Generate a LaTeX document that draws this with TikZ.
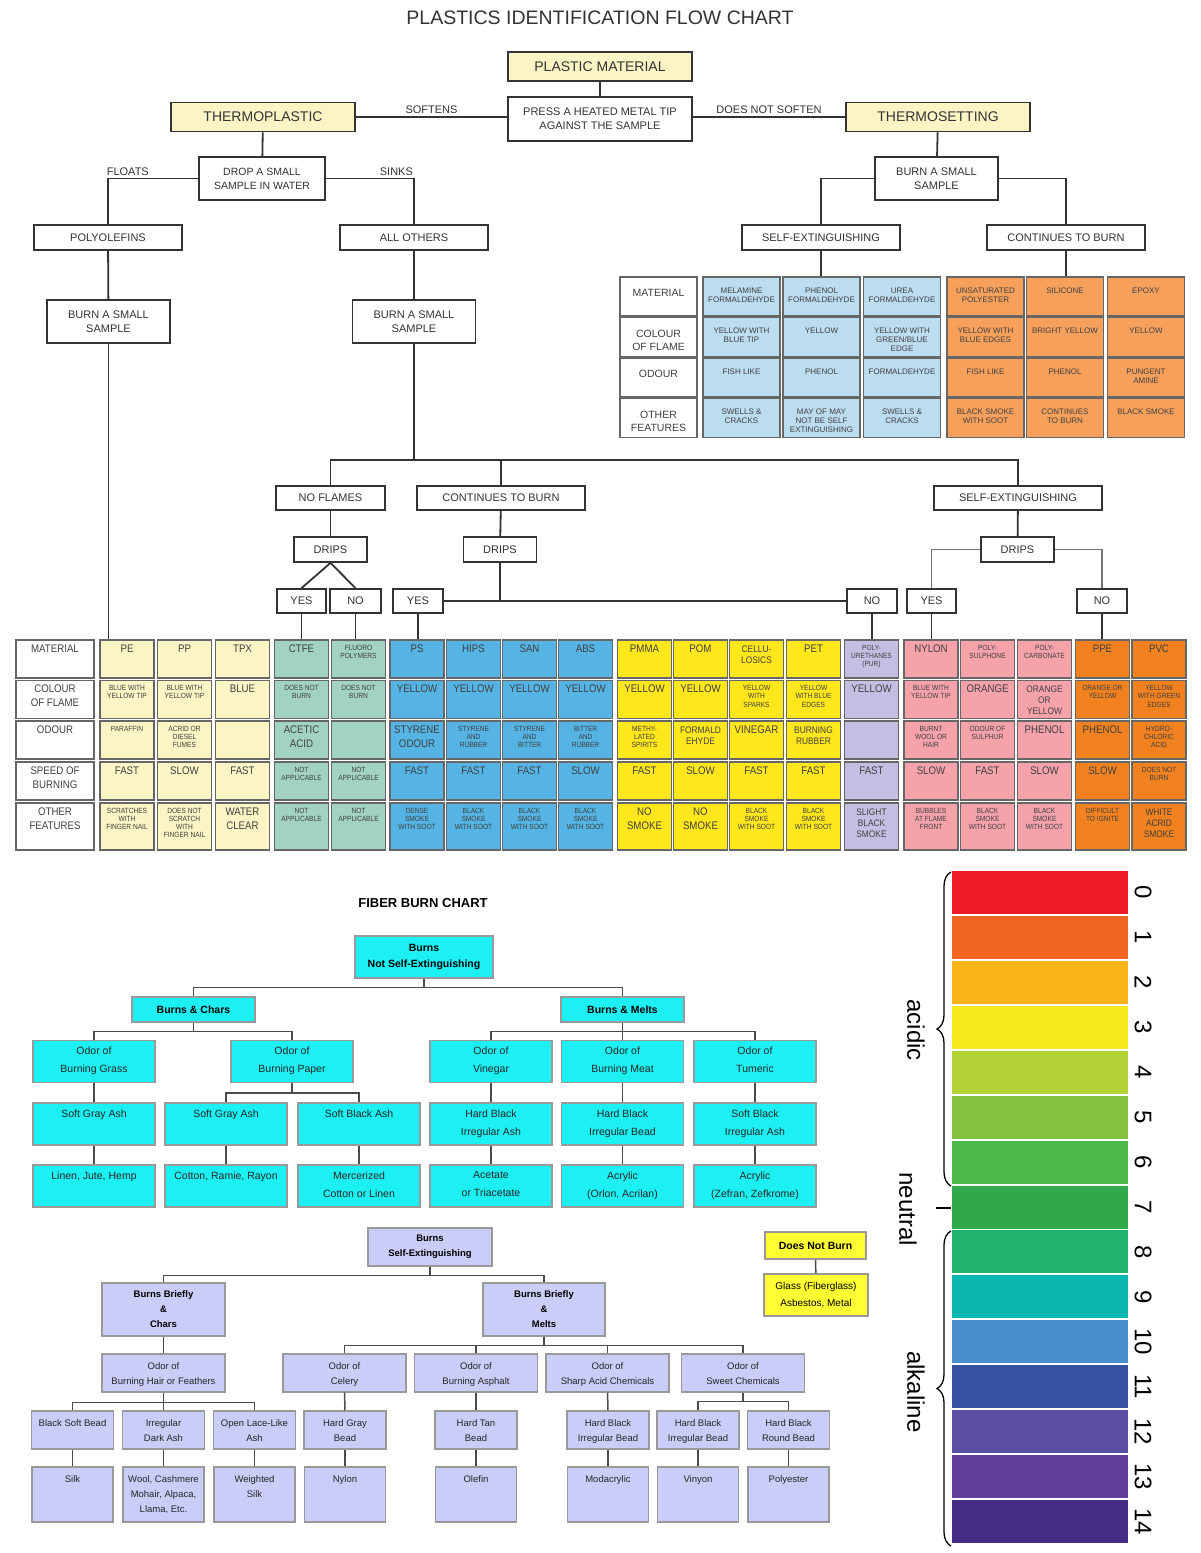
\documentclass[tikz,border=0pt]{standalone}
\usepackage{fontspec}
\setmainfont{Liberation Sans}
\newfontfamily\narrow[FakeStretch=0.88]{Liberation Sans}
\usetikzlibrary{decorations.pathreplacing}

\definecolor{cream}{HTML}{FBF5C6}
\definecolor{pcream}{HTML}{FBF4C4}
\definecolor{pteal}{HTML}{A2D2C1}
\definecolor{pblue}{HTML}{55B4E4}
\definecolor{pyellow}{HTML}{FFE71C}
\definecolor{plilac}{HTML}{C6BEE2}
\definecolor{ppink}{HTML}{F5A2AA}
\definecolor{porange}{HTML}{F2821F}
\definecolor{tblue}{HTML}{BCDCF0}
\definecolor{torange}{HTML}{F6A05C}
\definecolor{fcyan}{HTML}{1CF0F2}
\definecolor{flilac}{HTML}{CACDF7}
\definecolor{fyellow}{HTML}{FFFF33}

\newcommand{\smc}[1]{\narrow\fontsize{7.5}{8.2}\selectfont\begin{tabular}[t]{@{}c@{}}#1\end{tabular}}
\newcommand{\mdc}[1]{\narrow\fontsize{9.5}{11}\selectfont\begin{tabular}[t]{@{}c@{}}#1\end{tabular}}
\newcommand{\lgc}[1]{\fontsize{10.5}{13}\selectfont\begin{tabular}[t]{@{}c@{}}#1\end{tabular}}

\begin{document}
\begin{tikzpicture}[x=1pt, y=-1pt,
  conn/.style={draw=black!80, line width=1.8},
  pbox/.style={draw=black!80, line width=1.8, fill=white, align=center, inner sep=1, text=black!80, font=\fontsize{11}{14}\selectfont},
  hbox/.style={pbox, fill=cream, font=\fontsize{14}{16}\selectfont},
  tag/.style={text=black!80, font=\fontsize{11}{12}\selectfont, inner sep=1},
  pcell/.style={draw=black!60, line width=1.3, minimum width=54, minimum height=38, inner sep=0},
  ptext/.style={anchor=north, yshift=-5, align=center, inner sep=0, text=black!75, font=\narrow\fontsize{11}{14}\selectfont},
  tcell/.style={pcell, minimum width=77, minimum height=39},
  ttext/.style={ptext, yshift=-6, font=\fontsize{8}{9}\selectfont},
  fconn/.style={draw=black!70, line width=1.5},
  cbox/.style={draw=black!40, line width=1.2, fill=fcyan, minimum width=122, minimum height=42, inner sep=0},
  ctext/.style={anchor=north, yshift=-7, align=center, inner sep=0, text=black!85, font=\fontsize{10.5}{18}\selectfont},
  chead/.style={cbox, align=center, font=\bfseries\fontsize{10.5}{16}\selectfont},
  lbox/.style={cbox, fill=flilac, minimum width=123, minimum height=38},
  ltext/.style={ctext, yshift=-2, font=\fontsize{9.5}{15}\selectfont},
  lhead/.style={lbox, align=center, font=\bfseries\fontsize{9.5}{15}\selectfont},
  phlab/.style={rotate=-90, font=\fontsize{24}{26}\selectfont}]
\useasboundingbox (0,0) rectangle (1200,1553);
\fill[white] (0,0) rectangle (1200,1553);

% plastics flow chart
\node[text=black!80, font=\fontsize{19.5}{21}\selectfont] (title) at (600,18) {PLASTICS IDENTIFICATION FLOW CHART};
\node[hbox, minimum width=184, minimum height=29] (pm) at (600,66.5) {PLASTIC MATERIAL};
\node[pbox, minimum width=184, minimum height=44] (press) at (600,119) {PRESS A HEATED METAL TIP\\AGAINST THE SAMPLE};
\node[hbox, minimum width=184, minimum height=29] (tp) at (263,117) {THERMOPLASTIC};
\node[hbox, minimum width=184, minimum height=29] (ts) at (938,117) {THERMOSETTING};
\node[pbox, minimum width=126, minimum height=43, font=\fontsize{10.5}{14}\selectfont] (drop) at (262,178.5) {DROP A SMALL\\SAMPLE IN WATER};
\node[pbox, minimum width=123, minimum height=43] (burn3) at (936.5,178.5) {BURN A SMALL\\SAMPLE};
\node[pbox, minimum width=148, minimum height=25] (poly) at (108,237.5) {POLYOLEFINS};
\node[pbox, minimum width=148, minimum height=25] (others) at (414,237.5) {ALL OTHERS};
\node[pbox, minimum width=158, minimum height=25] (selfx) at (821,237.5) {SELF-EXTINGUISHING};
\node[pbox, minimum width=158, minimum height=25] (cont) at (1066,237.5) {CONTINUES TO BURN};
\node[pbox, minimum width=123, minimum height=43] (burn1) at (108.5,321.5) {BURN A SMALL\\SAMPLE};
\node[pbox, minimum width=123, minimum height=43] (burn2) at (414,321.5) {BURN A SMALL\\SAMPLE};
\node[pbox, minimum width=109, minimum height=24] (nof) at (330.5,498) {NO FLAMES};
\node[pbox, minimum width=168, minimum height=24] (ctb) at (501,498) {CONTINUES TO BURN};
\node[pbox, minimum width=168, minimum height=24] (sx2) at (1018,498) {SELF-EXTINGUISHING};
\node[pbox, minimum width=73, minimum height=25] (drip1) at (330.5,549.5) {DRIPS};
\node[pbox, minimum width=73, minimum height=25] (drip2) at (500,549.5) {DRIPS};
\node[pbox, minimum width=73, minimum height=25] (drip3) at (1017.5,549.5) {DRIPS};
\node[pbox, minimum width=49, minimum height=24] (yes1) at (301.5,601) {YES};
\node[pbox, minimum width=51, minimum height=24] (no1) at (355.5,601) {NO};
\node[pbox, minimum width=50, minimum height=24] (yes2) at (418,601) {YES};
\node[pbox, minimum width=50, minimum height=24] (no2) at (872,601) {NO};
\node[pbox, minimum width=49, minimum height=24] (yes3) at (931.5,601) {YES};
\node[pbox, minimum width=50, minimum height=24] (no3) at (1102,601) {NO};
\coordinate (hub) at (414,460);

% thermosetting table
\foreach \n/\x/\c/\a/\b/\d/\e in {
  tlab/658.5/white/{\lgc{MATERIAL}}/{\lgc{COLOUR\\OF FLAME}}/{\lgc{ODOUR}}/{\lgc{OTHER\\FEATURES}},
  mf/741.5/tblue/{MELAMINE\\FORMALDEHYDE}/{YELLOW WITH\\BLUE TIP}/{FISH LIKE}/{SWELLS \&\\CRACKS},
  pf/821.5/tblue/{PHENOL\\FORMALDEHYDE}/YELLOW/PHENOL/{MAY OF MAY\\NOT BE SELF\\EXTINGUISHING},
  uf/902/tblue/{UREA\\FORMALDEHYDE}/{YELLOW WITH\\GREEN/BLUE\\EDGE}/FORMALDEHYDE/{SWELLS \&\\CRACKS},
  up/985.5/torange/{UNSATURATED\\POLYESTER}/{YELLOW WITH\\BLUE EDGES}/{FISH LIKE}/{BLACK SMOKE\\WITH SOOT},
  sil/1065/torange/SILICONE/{BRIGHT YELLOW}/PHENOL/{CONTINUES\\TO BURN},
  epo/1146/torange/EPOXY/YELLOW/{PUNGENT\\AMINE}/{BLACK SMOKE}}
{
  \node[tcell, fill=\c, label={[ttext]north:\a}] (\n) at (\x,296.5) {};
  \node[tcell, fill=\c, label={[ttext]north:\b}] at (\x,337) {};
  \node[tcell, fill=\c, label={[ttext]north:\d}] at (\x,377.5) {};
  \node[tcell, fill=\c, label={[ttext]north:\e}] at (\x,418) {};
}

% thermoplastics table
\foreach \n/\x/\w/\c/\a/\b/\d/\e/\f in {
  lab/55/78/white/MATERIAL/{COLOUR\\OF FLAME}/ODOUR/{SPEED OF\\BURNING}/{OTHER\\FEATURES},
  pe/127/54/pcream/PE/{\smc{BLUE WITH\\YELLOW TIP}}/{\smc{PARAFFIN}}/FAST/{\smc{SCRATCHES\\WITH\\FINGER NAIL}},
  pp/184.5/54/pcream/PP/{\smc{BLUE WITH\\YELLOW TIP}}/{\smc{ACRID OR\\DIESEL\\FUMES}}/SLOW/{\smc{DOES NOT\\SCRATCH\\WITH\\FINGER NAIL}},
  tpx/242.5/54/pcream/TPX/BLUE/{}/FAST/{WATER\\CLEAR},
  ctfe/301.5/54/pteal/CTFE/{\smc{DOES NOT\\BURN}}/{ACETIC\\ACID}/{\smc{NOT\\APPLICABLE}}/{\smc{NOT\\APPLICABLE}},
  flu/358.5/54/pteal/{\smc{FLUORO\\POLYMERS}}/{\smc{DOES NOT\\BURN}}/{}/{\smc{NOT\\APPLICABLE}}/{\smc{NOT\\APPLICABLE}},
  ps/417/54/pblue/PS/YELLOW/{STYRENE\\ODOUR}/FAST/{\smc{DENSE\\SMOKE\\WITH SOOT}},
  hips/473.5/54/pblue/HIPS/YELLOW/{\smc{STYRENE\\AND\\RUBBER}}/FAST/{\smc{BLACK\\SMOKE\\WITH SOOT}},
  san/529.5/54/pblue/SAN/YELLOW/{\smc{STYRENE\\AND\\BITTER}}/FAST/{\smc{BLACK\\SMOKE\\WITH SOOT}},
  abs/585.5/54/pblue/ABS/YELLOW/{\smc{BITTER\\AND\\RUBBER}}/SLOW/{\smc{BLACK\\SMOKE\\WITH SOOT}},
  pmma/644.5/54/pyellow/PMMA/YELLOW/{\smc{METHY-\\LATED\\SPIRITS}}/FAST/{NO\\SMOKE},
  pom/700.5/54/pyellow/POM/YELLOW/{\mdc{FORMALD\\EHYDE}}/SLOW/{NO\\SMOKE},
  cel/756.5/54/pyellow/{\mdc{CELLU-\\LOSICS}}/{\smc{YELLOW\\WITH\\SPARKS}}/VINEGAR/FAST/{\smc{BLACK\\SMOKE\\WITH SOOT}},
  pet/813.5/54/pyellow/PET/{\smc{YELLOW\\WITH BLUE\\EDGES}}/{\mdc{BURNING\\RUBBER}}/FAST/{\smc{BLACK\\SMOKE\\WITH SOOT}},
  pu/871.5/54/plilac/{\smc{POLY-\\URETHANES\\(PUR)}}/YELLOW/{}/FAST/{\mdc{SLIGHT\\BLACK\\SMOKE}},
  nyl/931/54/ppink/NYLON/{\smc{BLUE WITH\\YELLOW TIP}}/{\smc{BURNT\\WOOL OR\\HAIR}}/SLOW/{\smc{BUBBLES\\AT FLAME\\FRONT}},
  psu/987.5/54/ppink/{\smc{POLY-\\SULPHONE}}/ORANGE/{\smc{ODOUR OF\\SULPHUR}}/FAST/{\smc{BLACK\\SMOKE\\WITH SOOT}},
  pc/1044.5/54/ppink/{\smc{POLY-\\CARBONATE}}/{\mdc{ORANGE\\OR\\YELLOW}}/PHENOL/SLOW/{\smc{BLACK\\SMOKE\\WITH SOOT}},
  ppe/1102.5/54/porange/PPE/{\smc{ORANGE OR\\YELLOW}}/PHENOL/SLOW/{\smc{DIFFICULT\\TO IGNITE}},
  pvc/1159/54/porange/PVC/{\smc{YELLOW\\WITH GREEN\\EDGES}}/{\smc{HYDRO-\\CHLORIC\\ACID}}/{\smc{DOES NOT\\BURN}}/{\mdc{WHITE\\ACRID\\SMOKE}}}
{
  \node[pcell, minimum width=\w, fill=\c, label={[ptext]north:\a}] (\n) at (\x,659) {};
  \node[pcell, minimum width=\w, fill=\c, label={[ptext]north:\b}] at (\x,699.5) {};
  \node[pcell, minimum width=\w, fill=\c, label={[ptext]north:\d}] at (\x,740) {};
  \node[pcell, minimum width=\w, fill=\c, label={[ptext]north:\e}] at (\x,781) {};
  \node[pcell, minimum width=\w, minimum height=47, fill=\c, label={[ptext]north:\f}] at (\x,826.5) {};
}

% plastics connectors
\draw[conn] (pm) -- (press);
\draw[conn] (tp.east) -- node[tag, above=1] {SOFTENS} (tp.east -| press.west);
\draw[conn] (press.east |- ts.west) -- node[tag, above=1] {DOES NOT SOFTEN} (ts.west);
\draw[conn] (tp) -- (drop);
\draw[conn] (drop.west) -| node[tag, above=1, pos=0.39] {FLOATS} (poly.north);
\draw[conn] (drop.east) -| node[tag, above=1, pos=0.4] {SINKS} (others.north);
\draw[conn] (poly) -- (burn1);
\draw[conn] (others) -- (burn2);
\draw[conn] (ts) -- (burn3);
\draw[conn] (burn3.west) -| (selfx.north);
\draw[conn] (burn3.east) -| (cont.north);
\draw[conn] (selfx) -- (selfx |- pf.north);
\draw[conn] (cont) -- (cont |- sil.north);
\draw[conn] (burn2) -- (hub);
\draw[conn] (nof.north) |- (hub) -| (sx2.north);
\draw[conn] (ctb) -- (ctb |- hub);
\draw[conn] (nof) -- (drip1);
\draw[conn] (ctb) -- (drip2);
\draw[conn] (sx2) -- (drip3);
\draw[conn] (drip1.south) -- (yes1.north);
\draw[conn] (drip1.south) -- (no1.north);
\draw[conn] (yes2) -- (no2);
\draw[conn] (drip2) -- (drip2 |- yes2);
\draw[conn, draw=black!55] (drip3.west) -| (yes3.north);
\draw[conn, draw=black!55] (drip3.east) -| (no3.north);
\draw[conn] (burn1) -- (burn1 |- pe.north);
\draw[conn] (yes1) -- (yes1 |- ctfe.north);
\draw[conn] (no1) -- (no1 |- flu.north);
\draw[conn] (yes2) -- (yes2 |- ps.north);
\draw[conn] (no2) -- (no2 |- pu.north);
\draw[conn] (yes3) -- (yes3 |- nyl.north);
\draw[conn] (no3) -- (no3 |- ppe.north);

% fiber burn chart
\node[font=\bfseries\fontsize{13}{14}\selectfont] (ftitle) at (423,903) {FIBER BURN CHART};
\node[chead, minimum width=138, minimum height=42] (nse) at (424,957) {Burns\\Not Self-Extinguishing};
\node[chead, minimum width=123, minimum height=25] (bc) at (193.5,1009.5) {Burns \& Chars};
\node[chead, minimum width=123, minimum height=25] (bm) at (622.5,1009.5) {Burns \& Melts};
\foreach \n/\x/\t in {og/94/{Odor of\\Burning Grass}, op/292/{Odor of\\Burning Paper},
    ov/491/{Odor of\\Vinegar}, om/622.5/{Odor of\\Burning Meat}, ot/755/{Odor of\\Tumeric}}
  \node[cbox, label={[ctext]north:\t}] (\n) at (\x,1061.5) {};
\foreach \n/\x/\t in {ag/94/{Soft Gray Ash}, ap/226/{Soft Gray Ash}, ak/359/{Soft Black Ash},
    av/491/{Hard Black\\Irregular Ash}, am/622.5/{Hard Black\\Irregular Bead}, at/755/{Soft Black\\Irregular Ash}}
  \node[cbox, label={[ctext]north:\t}] (\n) at (\x,1124) {};
\foreach \n/\x/\t in {xg/94/{Linen, Jute, Hemp}, xp/226/{Cotton, Ramie, Rayon}, xk/359/{Mercerized\\Cotton or Linen},
    xv/491/{Acetate\\or Triacetate}, xm/622.5/{Acrylic\\(Orlon, Acrilan)}, xt/755/{Acrylic\\(Zefran, Zefkrome)}}
  \node[cbox, label={[ctext]north:\t}] (\n) at (\x,1186) {};
\draw[fconn] (nse.south) -- ++(0,9) -| (bc.north);
\draw[fconn] (nse.south) -- ++(0,9) -| (bm.north);
\foreach \t in {og,op} \draw[fconn] (bc.south) -- ++(0,9) -| (\t.north);
\foreach \t in {ov,om,ot} \draw[fconn] (bm.south) -- ++(0,9) -| (\t.north);
\foreach \t in {ap,ak} \draw[fconn] (op.south) -- ++(0,10) -| (\t.north);
\foreach \a/\b in {og/ag, ov/av, om/am, ot/at, ag/xg, ap/xp, ak/xk, av/xv, am/xm, at/xt}
  \draw[fconn] (\a) -- (\b);

\node[lhead, minimum width=124] (se) at (430,1247) {Burns\\Self-Extinguishing};
\node[lhead, minimum height=53] (bbc) at (163.5,1309.5) {Burns Briefly\\\&\\Chars};
\node[lhead, minimum width=122, minimum height=53] (bbm) at (544,1309.5) {Burns Briefly\\\&\\Melts};
\foreach \n/\x/\t in {lh/163.5/{Odor of\\Burning Hair or Feathers}, lc/344.5/{Odor of\\Celery},
    la/476/{Odor of\\Burning Asphalt}, ls/607.5/{Odor of\\Sharp Acid Chemicals}, lw/743/{Odor of\\Sweet Chemicals}}
  \node[lbox, label={[ltext]north:\t}] (\n) at (\x,1373) {};
\foreach \n/\x/\t in {b1/72.5/{Black Soft Bead}, b2/163.5/{Irregular\\Dark Ash}, b3/254.5/{Open Lace-Like\\Ash},
    b4/345/{Hard Gray\\Bead}, b5/476/{Hard Tan\\Bead}, b6/608/{Hard Black\\Irregular Bead},
    b7/698/{Hard Black\\Irregular Bead}, b8/788.5/{Hard Black\\Round Bead}}
  \node[lbox, minimum width=82, label={[ltext]north:\t}] (\n) at (\x,1430) {};
\foreach \n/\x/\t in {f1/72.5/Silk, f2/163.5/{Wool, Cashmere\\Mohair, Alpaca,\\Llama, Etc.}, f3/254.5/{Weighted\\Silk},
    f4/345/Nylon, f5/476/Olefin, f6/608/Modacrylic, f7/698/Vinyon, f8/788.5/Polyester}
  \node[lbox, minimum width=81, minimum height=55, label={[ltext]north:\t}] (\n) at (\x,1494.5) {};
\draw[fconn] (se.south) -- ++(0,9) -| (bbc.north);
\draw[fconn] (se.south) -- ++(0,9) -| (bbm.north);
\draw[fconn] (bbc) -- (lh);
\foreach \t in {b1,b2,b3} \draw[fconn] (lh.south) -- ++(0,10) -| (\t.north);
\foreach \t in {lc,la,ls,lw} \draw[fconn] (bbm.south) -- ++(0,9) -| (\t.north);
\foreach \t in {b7,b8} \draw[fconn] (lw.south) -- ++(0,9) -| (\t.north);
\foreach \a/\b in {lc/b4, la/b5, ls/b6, b1/f1, b2/f2, b3/f3, b4/f4, b5/f5, b6/f6, b7/f7, b8/f8}
  \draw[fconn] (\a) -- (\b);

\node[cbox, fill=fyellow, minimum width=101, minimum height=27, font=\bfseries\fontsize{10.5}{12}\selectfont] (dnb) at (815.5,1245.5) {Does Not Burn};
\node[cbox, fill=fyellow, minimum width=104, minimum height=42, align=center, font=\fontsize{10}{17}\selectfont] (gla) at (816,1295) {Glass (Fiberglass)\\Asbestos, Metal};
\draw[fconn] (dnb) -- (gla);

% pH scale
\foreach \i/\c in {0/EE1C24, 1/F26522, 2/F9B517, 3/F4EA1E, 4/B3D235, 5/83C341, 6/4DB848, 7/31A84A,
    8/21B36D, 9/0BB5B0, 10/468FCC, 11/3853A3, 12/5A4FA0, 13/633F9A, 14/452B82}
{
  \definecolor{phc}{HTML}{\c}
  \fill[phc] (952,{871+44.93*\i}) rectangle (1128,{871+44.93*\i+43});
  \node[phlab] at (1143,{871+44.93*\i+21.5}) {\i};
}
\draw[line width=1.3, decorate, decoration={brace, amplitude=14}] (951,1186) -- (951,872);
\draw[line width=1.3, decorate, decoration={brace, amplitude=14}] (951,1546) -- (951,1231);
\draw[line width=1.3] (936,1208) -- (951,1208);
\node[phlab] at (916,1030) {acidic};
\node[phlab] at (908,1209) {neutral};
\node[phlab] at (916,1392) {alkaline};
\end{tikzpicture}
\end{document}
